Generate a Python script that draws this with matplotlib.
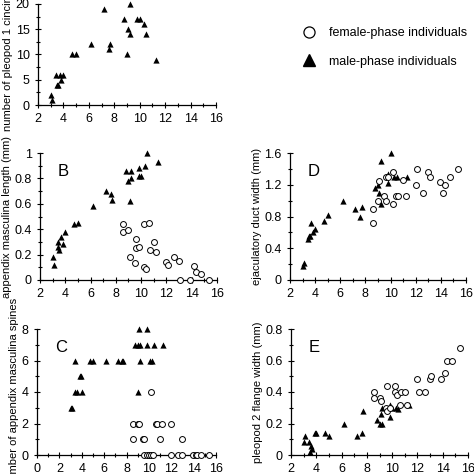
import matplotlib
matplotlib.use("Agg")
import matplotlib.pyplot as plt
from matplotlib.ticker import MultipleLocator, FuncFormatter
from matplotlib.lines import Line2D

plt.rcParams["font.family"] = ["Liberation Sans", "DejaVu Sans"]

# --- data (body size on x) ---
a_male_x = [3.0, 3.1, 3.4, 3.5, 3.6, 3.7, 3.8, 4.0, 4.7, 5.0, 6.2, 7.2, 7.6, 7.7,
            8.8, 9.0, 9.1, 9.2, 9.2, 9.8, 10.0, 10.3, 10.5, 11.3]
a_male_y = [2, 1, 6, 4, 4, 6, 5, 6, 10, 10, 12, 19, 11, 12,
            17, 10, 15, 14, 20, 17, 17, 16, 14, 9]

b_male_x = [3.0, 3.1, 3.4, 3.4, 3.5, 3.7, 3.8, 4.0, 4.7, 5.0, 6.2, 7.2, 7.6, 7.7,
            8.8, 9.0, 9.1, 9.2, 9.2, 9.8, 9.8, 10.0, 10.3, 10.5, 11.3]
b_male_y = [0.18, 0.12, 0.30, 0.26, 0.24, 0.34, 0.28, 0.38, 0.44, 0.45, 0.58, 0.70,
            0.68, 0.63, 0.86, 0.78, 0.62, 0.80, 0.86, 0.88, 0.82, 0.82, 0.90, 1.0, 0.93]
b_fem_x = [8.6, 8.6, 9.0, 9.1, 9.5, 9.6, 9.6, 9.8, 10.2, 10.2, 10.4, 10.6, 10.7,
           11.0, 11.2, 12.0, 12.1, 12.6, 13.0, 13.1, 13.9, 14.2, 14.3, 14.7, 15.4]
b_fem_y = [0.44, 0.38, 0.39, 0.18, 0.13, 0.32, 0.25, 0.26, 0.44, 0.10, 0.09, 0.45,
           0.24, 0.30, 0.22, 0.14, 0.12, 0.18, 0.15, 0.0, 0.0, 0.11, 0.06, 0.05, 0.0]

c_male_x = [3.0, 3.1, 3.4, 3.4, 3.6, 3.8, 3.9, 4.0, 4.7, 5.0, 6.2, 7.2, 7.6, 7.7,
            8.8, 9.0, 9.0, 9.1, 9.2, 9.2, 9.8, 9.8, 10.1, 10.3, 10.5, 11.3]
c_male_y = [3, 3, 6, 4, 4, 5, 5, 4, 6, 6, 6, 6, 6, 6,
            7, 7, 4, 8, 7, 6, 8, 7, 6, 6, 7, 7]
c_fem_x = [8.6, 8.6, 9.0, 9.1, 9.5, 9.6, 9.6, 9.8, 10.0, 10.2, 10.2, 10.4, 10.6,
           10.7, 11.0, 11.2, 12.0, 12.0, 12.6, 13.0, 13.0, 13.9, 14.2, 14.3, 14.7, 15.4]
c_fem_y = [2, 1, 2, 2, 1, 1, 0, 0, 0, 0, 4, 0, 2,
           2, 1, 2, 2, 0, 0, 1, 0, 0, 0, 0, 0, 0]

d_male_x = [3.0, 3.1, 3.4, 3.5, 3.6, 3.7, 3.8, 4.0, 4.7, 5.0, 6.2, 7.2, 7.6, 7.7,
            8.8, 9.0, 9.1, 9.2, 9.2, 9.8, 9.8, 10.0, 10.3, 10.5, 11.3]
d_male_y = [0.18, 0.22, 0.52, 0.55, 0.55, 0.72, 0.60, 0.64, 0.74, 0.82, 1.0, 0.90,
            0.80, 0.92, 1.16, 1.20, 1.10, 1.50, 0.96, 1.22, 1.34, 1.60, 1.30, 1.30, 1.30]
d_fem_x = [8.6, 8.6, 9.0, 9.1, 9.5, 9.6, 9.6, 9.8, 10.2, 10.2, 10.4, 10.6, 11.0,
           11.2, 12.0, 12.1, 12.6, 13.0, 13.1, 13.9, 14.2, 14.3, 14.7, 15.4]
d_fem_y = [0.90, 0.72, 1.0, 1.25, 1.06, 1.30, 1.0, 1.30, 1.36, 0.96, 1.06, 1.06, 1.26,
           1.06, 1.20, 1.40, 1.10, 1.36, 1.30, 1.24, 1.10, 1.20, 1.30, 1.40]

e_male_x = [3.0, 3.1, 3.4, 3.5, 3.6, 3.7, 3.9, 4.0, 4.7, 5.0, 6.2, 7.2, 7.6, 7.7,
            8.8, 9.0, 9.1, 9.2, 9.2, 9.8, 9.8, 10.0, 10.3, 10.5, 11.3]
e_male_y = [0.08, 0.12, 0.08, 0.02, 0.06, 0.04, 0.14, 0.14, 0.14, 0.12, 0.20, 0.12,
            0.14, 0.28, 0.22, 0.20, 0.26, 0.20, 0.30, 0.32, 0.24, 0.30, 0.30, 0.29, 0.32]
e_fem_x = [8.6, 8.6, 9.0, 9.1, 9.5, 9.6, 9.6, 9.8, 10.2, 10.2, 10.4, 10.6, 10.7,
           11.0, 11.2, 12.0, 12.1, 12.6, 13.0, 13.1, 13.9, 14.2, 14.3, 14.7, 15.4]
e_fem_y = [0.40, 0.36, 0.36, 0.34, 0.30, 0.28, 0.44, 0.30, 0.44, 0.40, 0.38, 0.32,
           0.40, 0.40, 0.32, 0.48, 0.40, 0.40, 0.48, 0.50, 0.48, 0.52, 0.60, 0.60, 0.68]

W = H = 474.0
fig = plt.figure(figsize=(4.74, 4.74), dpi=100)


def mk_ax(x0, x1, y0px, y1px):
    # x0/x1: pixel left/right; y0px: pixel of y-min, y1px: pixel of y-max
    return fig.add_axes([x0 / W, 1 - y0px / H, (x1 - x0) / W, (y0px - y1px) / H])


def fmt(v, _pos):
    return f"{v:.1f}".rstrip("0").rstrip(".") if v % 1 else f"{int(round(v))}"


def style(ax, xlim, xmaj, ylim, ymaj, ylabel, letter=None):
    ax.set_xlim(*xlim)
    ax.set_ylim(*ylim)
    ax.xaxis.set_major_locator(MultipleLocator(xmaj))
    ax.xaxis.set_minor_locator(MultipleLocator(1))
    ax.yaxis.set_major_locator(MultipleLocator(ymaj))
    ax.yaxis.set_minor_locator(MultipleLocator(ymaj / 2))
    ax.yaxis.set_major_formatter(FuncFormatter(fmt))
    for s in ("top", "right"):
        ax.spines[s].set_visible(False)
    for s in ("left", "bottom"):
        ax.spines[s].set_linewidth(0.9)
    ax.tick_params(which="major", direction="inout", length=5, width=0.8, labelsize=9)
    ax.tick_params(which="minor", direction="inout", length=3, width=0.8)
    ax.set_ylabel(ylabel, fontsize=8, labelpad=2)
    ax.patch.set_alpha(0)
    if letter:
        ax.text(0.1, 0.82, letter, transform=ax.transAxes, fontsize=12)


tri = dict(marker="^", color="black", s=20, linewidths=0, clip_on=False, zorder=3)
circ = dict(marker="o", facecolors="white", edgecolors="black", s=18, linewidths=0.7,
            clip_on=False, zorder=3)

axA = mk_ax(38, 216, 105, 4)
axA.scatter(a_male_x, a_male_y, **tri)
style(axA, (2, 16), 2, (0, 20), 5, "number of pleopod 1 cincinnuli")

axB = mk_ax(40, 217, 280, 153)
axB.scatter(b_male_x, b_male_y, **tri)
axB.scatter(b_fem_x, b_fem_y, **circ)
style(axB, (2, 16), 2, (0, 1), 0.2, "appendix masculina length (mm)", "B")

axC = mk_ax(37, 216, 455, 329)
axC.scatter(c_male_x, c_male_y, **tri)
axC.scatter(c_fem_x, c_fem_y, **circ)
style(axC, (0, 16), 2, (0, 8), 2, "number of appendix masculina spines", "C")

axD = mk_ax(290, 466, 280, 153)
axD.scatter(d_male_x, d_male_y, **tri)
axD.scatter(d_fem_x, d_fem_y, **circ)
style(axD, (2, 16), 2, (0, 1.6), 0.4, "ejaculatory duct width (mm)", "D")

axE = mk_ax(291, 468, 455, 329)
axE.scatter(e_male_x, e_male_y, **tri)
axE.scatter(e_fem_x, e_fem_y, **circ)
style(axE, (2, 16), 2, (0, 0.8), 0.2, "pleopod 2 flange width (mm)", "E")

handles = [
    Line2D([], [], marker="o", ls="none", mfc="white", mec="black", ms=8, mew=0.9),
    Line2D([], [], marker="^", ls="none", color="black", ms=8),
]
fig.legend(handles, ["female-phase individuals", "male-phase individuals"],
           loc="upper left", bbox_to_anchor=(285 / W, 1 - 16 / H), frameon=False,
           fontsize=9, labelspacing=1.3, handletextpad=0.6)

fig.savefig("out.png", dpi=100)
